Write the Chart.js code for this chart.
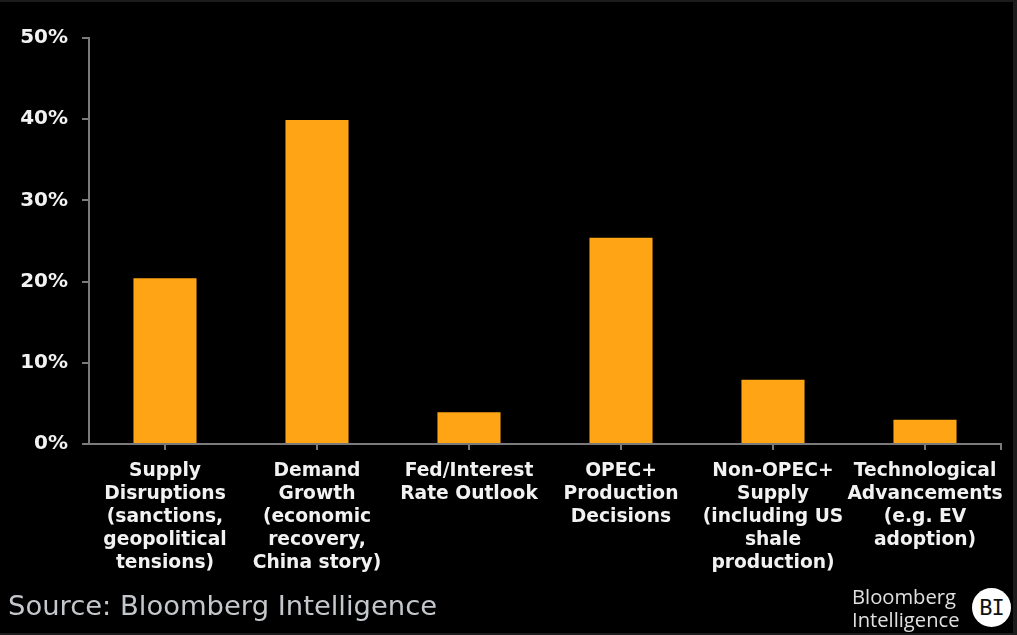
<!DOCTYPE html>
<html>
<head>
<meta charset="utf-8">
<style>
  html, body { margin: 0; background: #000; }
  #wrap { position: relative; width: 1017px; height: 635px; overflow: hidden; background: #000; }
  #chart { position: absolute; left: 0; top: 0; }
  #frame { position: absolute; left: 0; top: 0; width: 1013px; height: 631px; border: solid #1c1c1c; border-width: 2px 4px 2px 0; box-sizing: content-box; }
  .note { position: absolute; white-space: nowrap; }
  #source { left: 8px; top: 590px; font: 27.4px "DejaVu Sans", sans-serif; color: #c4c8cc; }
  #brand { left: 852px; top: 585px; font: 500 20.2px/23px "Open Sans", sans-serif; color: #e0e0e0; }
  #badge { left: 972px; top: 588px; width: 39px; height: 39px; border-radius: 50%; background: #fff; color: #111;
           font: 22px/39px "DejaVu Sans Mono", monospace; text-align: center; letter-spacing: -1px; }
</style>
<script src="https://cdn.jsdelivr.net/npm/chart.js@4/dist/chart.umd.min.js"></script>
</head>
<body>
<div id="wrap">
  <canvas id="chart" width="1017" height="635"></canvas>
  <div id="frame"></div>
  <div class="note" id="source">Source: Bloomberg Intelligence</div>
  <div class="note" id="brand">Bloomberg<br>Intelligence</div>
  <div class="note" id="badge">BI</div>
</div>
<script>
'use strict';

var categories = [
  ['Supply', 'Disruptions', '(sanctions,', 'geopolitical', 'tensions)'],
  ['Demand', 'Growth', '(economic', 'recovery,', 'China story)'],
  ['Fed/Interest', 'Rate Outlook'],
  ['OPEC+', 'Production', 'Decisions'],
  ['Non-OPEC+', 'Supply', '(including US', 'shale', 'production)'],
  ['Technological', 'Advancements', '(e.g. EV', 'adoption)']
];
var shares = [20.4, 39.9, 3.9, 25.4, 7.9, 3.0];
var yMax = 50;
var yStep = 10;

var axisColor = '#7a7a7a';
var barColor = '#ffa414';

// closes the category axis with a tick at its far end
var endTick = {
  id: 'endTick',
  afterDraw: function (chart) {
    var x = chart.scales.x;
    var c = chart.ctx;
    c.save();
    c.strokeStyle = axisColor;
    c.lineWidth = 2;
    c.beginPath();
    c.moveTo(x.right, x.top);
    c.lineTo(x.right, x.top + 6);
    c.stroke();
    c.restore();
  }
};

var ctx = document.getElementById('chart').getContext('2d');

new Chart(ctx, {
  type: 'bar',
  data: {
    labels: categories,
    datasets: [{
      data: shares,
      backgroundColor: barColor,
      borderWidth: 0,
      barPercentage: 0.83,
      categoryPercentage: 0.5
    }]
  },
  options: {
    responsive: false,
    animation: false,
    layout: { padding: { left: 0, right: 16, top: 38, bottom: 0 } },
    plugins: { legend: { display: false }, tooltip: { enabled: false } },
    scales: {
      x: {
        grid: { display: true, drawOnChartArea: false, color: axisColor, lineWidth: 2, tickLength: 6, offset: false },
        border: { display: true, color: axisColor, width: 2 },
        ticks: {
          color: '#f2f2f2',
          font: { family: '"DejaVu Sans"', size: 18.7, weight: 'bold', lineHeight: 1.23 },
          maxRotation: 0,
          autoSkip: false,
          padding: 10
        },
        afterFit: function (scale) { scale.height = 191; }
      },
      y: {
        min: 0,
        max: yMax,
        grid: { display: true, drawOnChartArea: false, color: axisColor, lineWidth: 2, tickLength: 7 },
        border: { display: true, color: axisColor, width: 2 },
        ticks: {
          stepSize: yStep,
          color: '#f2f2f2',
          font: { family: '"DejaVu Sans"', size: 20, weight: 'bold' },
          padding: 14,
          callback: function (v) { return v + '%'; }
        },
        afterFit: function (scale) { scale.width = 89; }
      }
    }
  },
  plugins: [endTick]
});
</script>
</body>
</html>
